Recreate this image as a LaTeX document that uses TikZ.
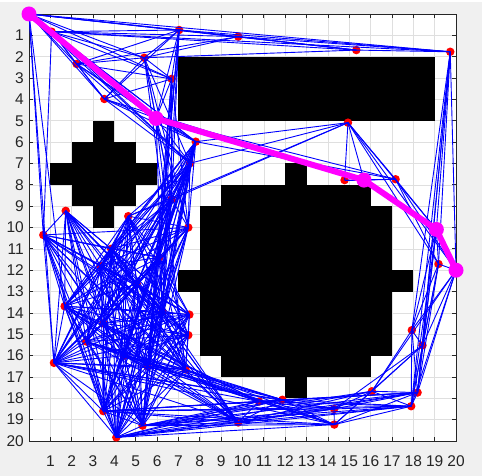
\documentclass[tikz,border=0pt]{standalone}
\usepackage{fontspec}
\setmainfont{Liberation Sans}
\definecolor{figgray}{RGB}{240,240,240}
\definecolor{gridgray}{RGB}{223,223,223}
\definecolor{axcol}{RGB}{38,38,38}
\definecolor{edgeblue}{RGB}{0,0,255}
\definecolor{dotred}{RGB}{255,0,0}
\definecolor{pathmag}{RGB}{255,0,255}
% ---------- visibility test (integer arithmetic, coordinates x100) ----------
\newif\ifvgblocked
\newcount\vgax \newcount\vgay \newcount\vgbx \newcount\vgby
\newcount\vgdx \newcount\vgdy
\newcount\vgmnx \newcount\vgmxx \newcount\vgmny \newcount\vgmxy
\newcount\vgsa \newcount\vgsb \newcount\vgsc \newcount\vgsd
\def\vgside#1#2{\numexpr\vgdx*(#2-\vgay)-\vgdy*(#1-\vgax)\relax}
\def\vgrect#1#2#3#4{%
  \ifvgblocked\else
  \ifnum\vgmxx>#1 \ifnum\vgmnx<#3 \ifnum\vgmxy>#2 \ifnum\vgmny<#4
    \vgsa=\vgside{#1}{#2}\vgsb=\vgside{#3}{#2}\vgsc=\vgside{#1}{#4}\vgsd=\vgside{#3}{#4}%
    \vgblockedtrue
    \ifnum\vgsa>0 \ifnum\vgsb>0 \ifnum\vgsc>0 \ifnum\vgsd>0 \vgblockedfalse\fi\fi\fi\fi
    \ifnum\vgsa<0 \ifnum\vgsb<0 \ifnum\vgsc<0 \ifnum\vgsd<0 \vgblockedfalse\fi\fi\fi\fi
  \fi\fi\fi\fi
  \fi}
\def\vgtest#1#2{%
  \vgax=\csname vgx#1\endcsname\relax
  \vgay=\csname vgy#1\endcsname\relax
  \vgbx=\csname vgx#2\endcsname\relax
  \vgby=\csname vgy#2\endcsname\relax
  \vgdx=\numexpr\vgbx-\vgax\relax
  \vgdy=\numexpr\vgby-\vgay\relax
  \ifnum\vgax<\vgbx \vgmnx=\vgax \vgmxx=\vgbx \else \vgmnx=\vgbx \vgmxx=\vgax \fi
  \ifnum\vgay<\vgby \vgmny=\vgay \vgmxy=\vgby \else \vgmny=\vgby \vgmxy=\vgay \fi
  \vgblockedfalse
  \vgrect{700}{200}{1900}{500}%
  \vgrect{300}{500}{400}{1000}%
  \vgrect{200}{600}{500}{900}%
  \vgrect{100}{700}{600}{800}%
  \vgrect{1200}{700}{1300}{1800}%
  \vgrect{900}{800}{1600}{1700}%
  \vgrect{800}{900}{1700}{1600}%
  \vgrect{700}{1200}{1800}{1300}%
}
\tikzset{
  reddot/.style={circle, fill=dotred, draw=none, inner sep=0pt, minimum size=8.5bp},
  pathdot/.style={circle, fill=pathmag, draw=none, inner sep=0pt, minimum size=15bp},
  edge/.style={draw=edgeblue, line width=0.9bp},
  pathline/.style={draw=pathmag, line width=6bp, line join=round},
  gridline/.style={draw=gridgray, line width=0.6bp},
  axline/.style={draw=axcol, line width=0.8bp},
  ticklab/.style={text=axcol, inner sep=0pt, font=\fontsize{15.5bp}{17bp}\selectfont},
  obst/.style={fill=black}
}
% nodes 1..49 as read; 50..52 hidden in the dense cluster
\def\nodelist{0/0,106/83,223/234,353/398,540/205,703/75,668/304,980/106,1533/169,1973/177,1494/509,781/598,754/699,668/868,746/1000,465/947,172/922,67/1035,1478/778,1717/774,1918/1171,1793/1481,1843/1552,1820/1773,1790/1837,1606/1767,1429/1850,1430/1923,1187/1807,1077/1815,980/1913,733/1665,532/1928,409/1983,348/1860,117/1634,167/1369,268/1534,348/1449,335/1180,385/1100,751/1408,746/1504,625/1394,555/1650,595/489,1569/778,1908/1009,2000/1200,505/1265,445/1600,610/1140}
\begin{document}
\begin{tikzpicture}[x=1bp,y=-1bp]
\useasboundingbox (0,0) rectangle (486,476);
\fill[figgray] (0,2) rectangle (482,476);
\begin{scope}[shift={(29bp,-14bp)}, x=21.35bp, y=-21.35bp]
  % axes area
  \fill[white] (0,0) rectangle (20,20);
  \foreach \k in {1,...,19} {
    \draw[gridline] (\k,0) -- (\k,20);
    \draw[gridline] (0,\k) -- (20,\k);
  }
  \draw[axline] (0,0) rectangle (20,20);
  \foreach \k in {1,...,19} {
    \draw[axline] (\k,20) -- (\k,19.8);
    \draw[axline] (\k,0) -- (\k,0.2);
    \draw[axline] (0,\k) -- (0.2,\k);
    \draw[axline] (20,\k) -- (19.8,\k);
  }
  \foreach \k in {1,...,20} {
    \node[ticklab, anchor=east] (yl\k) at (-0.234,\k) {\k};
    \node[ticklab, anchor=north] (xl\k) at (\k,20.70) {\k};
  }
  % obstacles
  \fill[obst] (7,2) rectangle (19,5);
  \fill[obst] (3,5) rectangle (4,10);
  \fill[obst] (2,6) rectangle (5,9);
  \fill[obst] (1,7) rectangle (6,8);
  \fill[obst] (12,7) rectangle (13,18);
  \fill[obst] (9,8) rectangle (16,17);
  \fill[obst] (8,9) rectangle (17,16);
  \fill[obst] (7,12) rectangle (18,13);
  % roadmap nodes
  \foreach [count=\k] \a/\b in \nodelist {
    \node[reddot] (p\k) at (\a/100,\b/100) {};
    \expandafter\xdef\csname vgx\k\endcsname{\a}%
    \expandafter\xdef\csname vgy\k\endcsname{\b}%
  }
  % roadmap edges (collision-free pairs)
  \foreach \i in {1,...,51} {
    \pgfmathtruncatemacro\ip{\i+1}
    \foreach \j in {\ip,...,52} {
      \vgtest{\i}{\j}%
      \ifvgblocked\let\vgnext\relax\else\def\vgnext{\draw[edge] (p\i.center) -- (p\j.center);}\fi
      \vgnext
    }
  }
  % path
  \draw[pathline] (p1.center) -- (p46.center) -- (p47.center) -- (p48.center) -- (p49.center);
  \foreach \k in {1,46,47,48,49} {
    \node[pathdot] (m\k) at (p\k.center) {};
  }
\end{scope}
\end{tikzpicture}
\end{document}
